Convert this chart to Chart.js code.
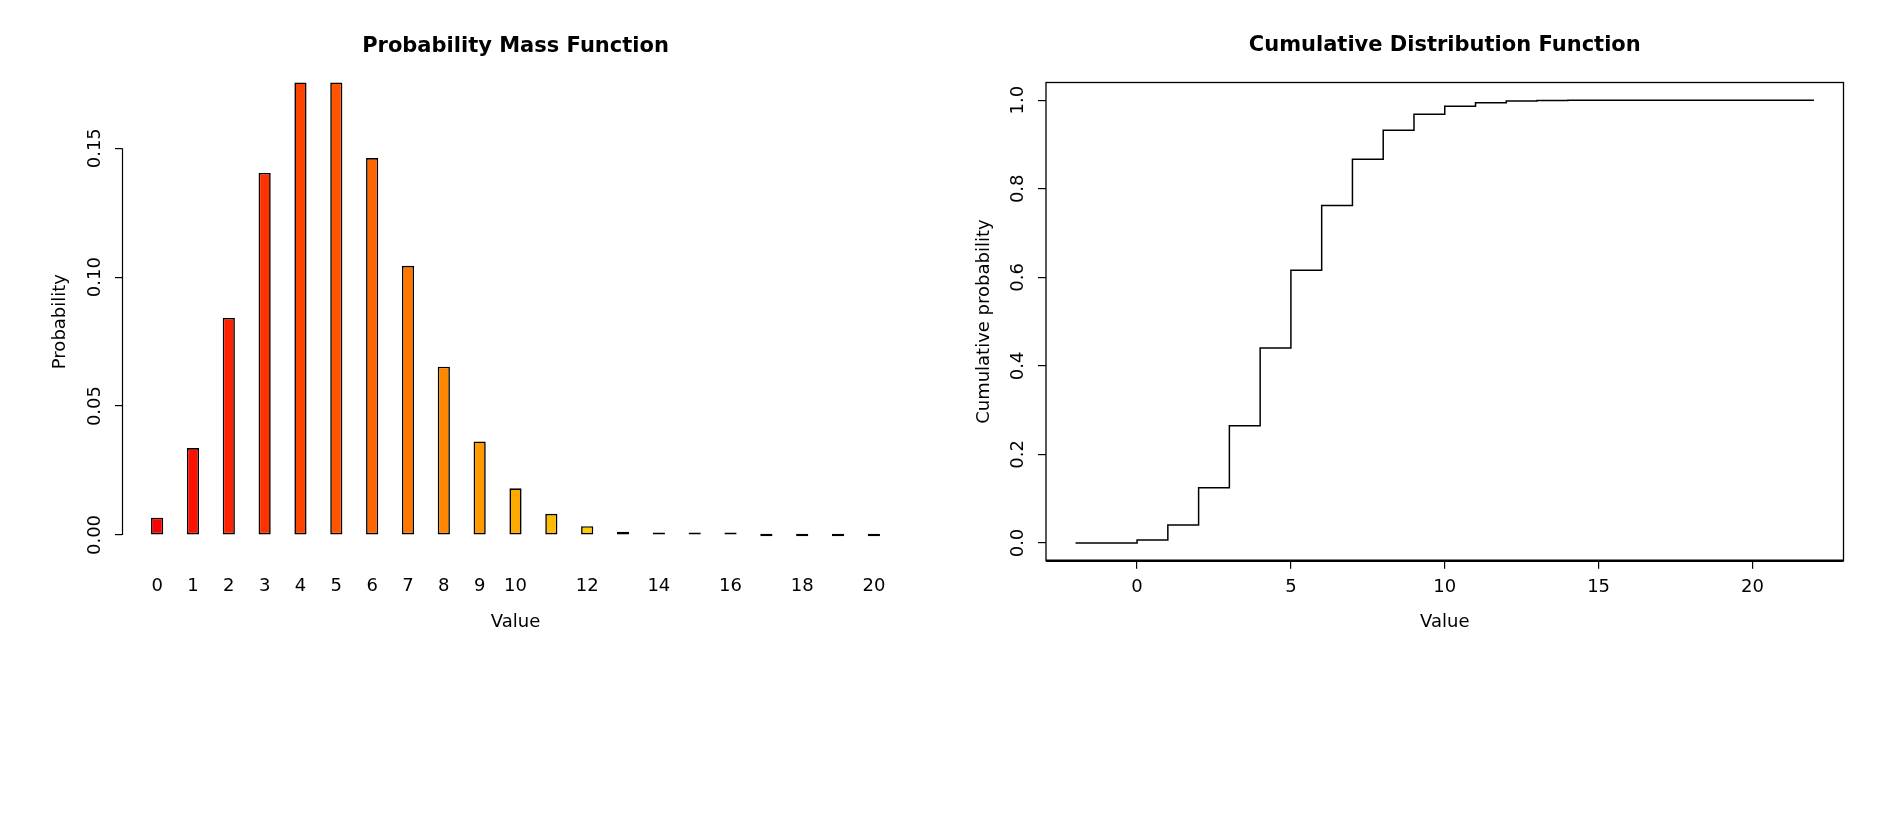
<!DOCTYPE html>
<html>
<head>
<meta charset="utf-8">
<title>Poisson PMF / CDF</title>
<script src="https://cdn.jsdelivr.net/npm/chart.js@4.4.1/dist/chart.umd.min.js"></script>
<style>
  html, body { margin: 0; padding: 0; background: #fff; }
  body { width: 1902px; height: 823px; position: relative; overflow: hidden; }
  .panel { position: absolute; top: 0; width: 951px; height: 823px; }
</style>
</head>
<body>
<div class="panel" style="left:0"><canvas id="Chart1"></canvas></div>
<div class="panel" style="left:951px"><canvas id="Chart2"></canvas></div>
<script>
// values
let values = [0, 1, 2, 3, 4, 5, 6, 7, 8, 9, 10, 11, 12, 13, 14, 15, 16, 17, 18, 19, 20]
let pmf = [0.0067, 0.0337, 0.0842, 0.1404, 0.1755, 0.1755, 0.1462, 0.1044, 0.0653, 0.0363,
           0.0181, 0.0082, 0.0034, 0.0013, 0.0005, 0.0002, 0.0001, 0, 0, 0, 0]
let pmfTicks = [0, 1, 2, 3, 4, 5, 6, 7, 8, 9, 10, 12, 14, 16, 18, 20]

let cdfX = [-2, -1, 0, 1, 2, 3, 4, 5, 6, 7, 8, 9, 10, 11, 12, 13, 14, 15, 16, 17, 18, 19, 20, 21, 22]
let cdfY = [0, 0, 0.0067, 0.0404, 0.1247, 0.2650, 0.4405, 0.6160, 0.7622, 0.8666, 0.9319, 0.9682,
            0.9863, 0.9945, 0.9980, 0.9993, 0.9998, 0.9999, 1, 1, 1, 1, 1, 1, 1]

// heat colours, one per bar
let barColors = ["#FF0000", "#FF1100", "#FF2200", "#FF3300", "#FF4400", "#FF5500", "#FF6600",
                 "#FF7700", "#FF8800", "#FF9900", "#FFAA00", "#FFBB00", "#FFCC00", "#FFDD00",
                 "#FFEE00", "#FFFF00", "#FFFF1A", "#FFFF4D", "#FFFF80", "#FFFFB3", "#FFFFE6"]

Chart.defaults.font.family = "'DejaVu Sans', 'Liberation Sans', sans-serif"
Chart.defaults.font.size = 18
Chart.defaults.color = "#000"

// R style y axis: line only from first to last tick
const axisLine = {
    id: "axisLine",
    afterDraw(chart){
        const y = chart.scales.y
        const t = y.ticks
        const ctx = chart.ctx
        const x = Math.round(chart.chartArea.left) + 0.5
        ctx.save()
        ctx.strokeStyle = "#000"
        ctx.lineWidth = 1.2
        ctx.beginPath()
        ctx.moveTo(x, y.getPixelForValue(t[0].value))
        ctx.lineTo(x, y.getPixelForValue(t[t.length - 1].value))
        ctx.stroke()
        ctx.restore()
    }
}

// box round the plot region
const frameBox = {
    id: "frameBox",
    afterDraw(chart){
        const a = chart.chartArea
        const ctx = chart.ctx
        ctx.save()
        ctx.strokeStyle = "#000"
        ctx.lineWidth = 1.3
        ctx.strokeRect(a.left, a.top, a.right - a.left, a.bottom - a.top)
        ctx.lineWidth = 2.5
        ctx.beginPath()
        ctx.moveTo(a.left, a.bottom)
        ctx.lineTo(a.right, a.bottom)
        ctx.stroke()
        ctx.restore()
    }
}

document.addEventListener("DOMContentLoaded", () => {
    crearCharts()
})

function crearCharts(){
    new Chart(document.getElementById("Chart1"), {
        type: 'bar',
        data: {
            datasets: [{
                label: "Probability",
                data: values.map((v, i) => ({x: v, y: pmf[i]})),
                backgroundColor: barColors,
                borderColor: "#000",
                borderWidth: 1.6,
                borderSkipped: false,
                minBarLength: 2.6,
                barPercentage: 0.34,
                categoryPercentage: 1,
                clip: false
            }]
        },
        options: {
            animation: false,
            responsive: true,
            maintainAspectRatio: false,
            layout: { padding: { left: 0, right: 42, top: 0, bottom: 0 } },
            plugins: {
                legend: { display: false },
                tooltip: { enabled: false },
                title: {
                    display: true,
                    text: "Probability Mass Function",
                    fullSize: false,
                    font: { size: 21, weight: "bold" },
                    padding: { top: 34.4, bottom: 22.9 }
                }
            },
            scales: {
                x: {
                    type: "linear",
                    min: -0.98,
                    max: 20.98,
                    offset: false,
                    grid: { display: false, drawTicks: false },
                    border: { display: false },
                    afterBuildTicks: s => { s.ticks = pmfTicks.map(v => ({value: v})) },
                    afterFit: s => { s.height = 262.3 },
                    ticks: { padding: 15, maxRotation: 0, autoSkip: false, callback: v => String(v) },
                    title: { display: true, text: "Value", padding: { top: 0, bottom: 190.2 } }
                },
                y: {
                    min: -0.00997,
                    max: 0.1755,
                    grid: { display: true, drawOnChartArea: false, drawTicks: true, tickLength: 7, color: "#000", tickColor: "#000", lineWidth: 1.2 },
                    border: { display: false },
                    afterFit: s => { s.width = 122 },
                    ticks: { stepSize: 0.05, includeBounds: false, minRotation: 90, maxRotation: 90, crossAlign: "center", padding: 0,
                             callback: v => Number(v).toFixed(2) },
                    title: { display: true, text: "Probability", padding: { top: 50, bottom: 0 } }
                }
            }
        },
        plugins: [axisLine]
    })

    new Chart(document.getElementById("Chart2"), {
        type: 'line',
        data: {
            datasets: [{
                label: "Cumulative probability",
                data: cdfX.map((x, i) => ({x: x, y: cdfY[i]})),
                stepped: true,
                borderColor: "#000",
                borderWidth: 1.5,
                pointRadius: 0,
                fill: false
            }]
        },
        options: {
            animation: false,
            responsive: true,
            maintainAspectRatio: false,
            layout: { padding: { left: 0, right: 58.5, top: 0, bottom: 0 } },
            plugins: {
                legend: { display: false },
                tooltip: { enabled: false },
                title: {
                    display: true,
                    text: "Cumulative Distribution Function",
                    fullSize: false,
                    font: { size: 21, weight: "bold" },
                    padding: { top: 33.4, bottom: 23.9 }
                }
            },
            scales: {
                x: {
                    type: "linear",
                    min: -2.96,
                    max: 22.96,
                    grid: { display: true, drawOnChartArea: false, drawTicks: true, tickLength: 8, color: "#000", tickColor: "#000", lineWidth: 1.2 },
                    border: { display: false },
                    afterFit: s => { s.height = 262.3 },
                    ticks: { stepSize: 5, includeBounds: false, padding: 7.5, maxRotation: 0 },
                    title: { display: true, text: "Value", padding: { top: 0, bottom: 190.2 } }
                },
                y: {
                    min: -0.04,
                    max: 1.04,
                    grid: { display: true, drawOnChartArea: false, drawTicks: true, tickLength: 8, color: "#000", tickColor: "#000", lineWidth: 1.2 },
                    border: { display: false },
                    afterFit: s => { s.width = 95 },
                    ticks: { stepSize: 0.2, includeBounds: false, minRotation: 90, maxRotation: 90, crossAlign: "center", padding: 5.4,
                             callback: v => Number(v).toFixed(1) },
                    title: { display: true, text: "Cumulative probability", padding: { top: 22.2, bottom: 0 } }
                }
            }
        },
        plugins: [frameBox]
    })
}
</script>
</body>
</html>
